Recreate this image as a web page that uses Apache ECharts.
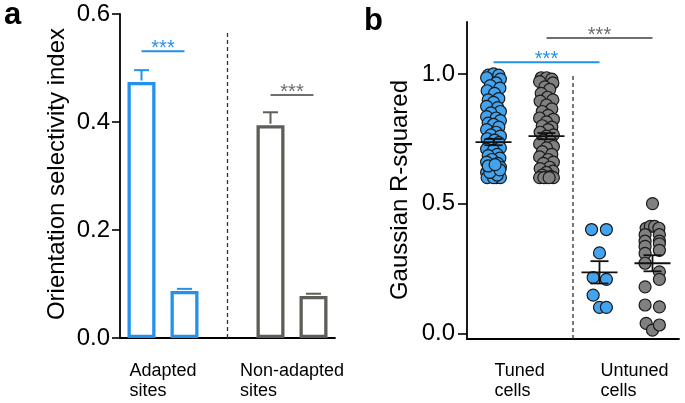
<!DOCTYPE html>
<html><head><meta charset="utf-8">
<script src="https://cdn.jsdelivr.net/npm/echarts@6/dist/echarts.min.js"></script>
<style>html,body{margin:0;padding:0;background:#fff}#c{width:685px;height:403px}</style>
</head><body><div id="c"></div>
<script>
const FONT = '"Liberation Sans", Arial, Helvetica, sans-serif';
const COLORS = { blue: '#2391ee', gray: '#5e5e59', dotBlue: '#42a3ef', dotGray: '#808080', sigGray: '#6e6e6e' };

// ---------- Panel a data ----------
const catsA = ['Adapted 1', 'Adapted 2', 'gap', 'Non-adapted 1', 'Non-adapted 2'];
const osiMeans = [0.474, 0.087, null, 0.394, 0.078];
const osiErrors = [0.022, 0.004, null, 0.024, 0.004];
const barGroupsA = ['blue', 'blue', null, 'gray', 'gray'];
const groupLabelsA = [{ text: 'Adapted\nsites', from: 0, to: 1 }, { text: 'Non-adapted\nsites', from: 3, to: 4 }];
const sigA = [{ from: 0, to: 1, y: 0.531, color: 'blue' }, { from: 3, to: 4, y: 0.45, color: 'gray' }];
const dividerA = { x: 2, y0: 0, y1: 0.567 };

// ---------- Panel b data ----------
const catsB = ['Tuned adapted', 'Tuned non-adapted', 'Untuned adapted', 'Untuned non-adapted'];
// [jitter offset (category units), R-squared]
const tunedAdapted = [
  [-0.1,0.995],[0,1.0],[0.1,0.995],[-0.13,0.985],[0.13,0.98],
  [0.05,0.965],[-0.06,0.955],[0.12,0.945],[-0.12,0.935],[0.02,0.925],
  [0.1,0.905],[-0.1,0.9],[0,0.89],[-0.13,0.875],[0.08,0.87],
  [0.13,0.855],[-0.05,0.85],[-0.13,0.835],[0.05,0.83],[0.13,0.82],
  [-0.1,0.81],[0,0.805],[0.1,0.795],[-0.13,0.785],[0.05,0.775],
  [-0.05,0.765],[0.13,0.76],[-0.12,0.75],[0.02,0.745],[0.1,0.735],
  [-0.08,0.73],[0.13,0.715],[-0.13,0.71],[0,0.705],[0.07,0.69],
  [-0.1,0.685],[0.12,0.675],[-0.03,0.67],[-0.13,0.66],[0.08,0.655],
  [0.13,0.64],[-0.08,0.64],[0,0.63],[-0.13,0.62],[0.1,0.615],
  [-0.05,0.605],[0.05,0.6],[-0.12,0.6],[0.13,0.6],[0,0.6],
  [0.07,0.61],[-0.07,0.62],[0.12,0.63],[-0.1,0.645],[0.03,0.65]
];
const tunedNonAdapted = [
  [-0.1,0.985],[0,0.985],[0.1,0.98],[-0.13,0.97],[0.12,0.965],
  [-0.03,0.95],[0.06,0.94],[-0.1,0.925],[0.02,0.91],[0.12,0.9],
  [-0.12,0.895],[0,0.88],[0.1,0.865],[-0.08,0.855],[0.03,0.84],
  [-0.13,0.83],[0.13,0.825],[0,0.815],[-0.08,0.8],[0.1,0.795],
  [0.03,0.785],[-0.12,0.775],[0.13,0.765],[0,0.76],[-0.06,0.745],
  [0.08,0.74],[-0.13,0.73],[0.13,0.72],[0,0.715],[-0.08,0.7],
  [0.1,0.69],[-0.13,0.68],[0.03,0.67],[0.13,0.66],[-0.06,0.655],
  [0.06,0.64],[-0.12,0.635],[0.12,0.625],[0,0.62],[-0.08,0.61],
  [0.08,0.605],[-0.13,0.6],[0.13,0.6],[0,0.6],[-0.05,0.6],[0.05,0.6]
];
const untunedAdapted = [
  [-0.15,0.40],[0.13,0.40],[0,0.31],[-0.12,0.215],[0.13,0.208],[-0.12,0.147],[0,0.10],[0.13,0.10]
];
const untunedNonAdapted = [
  [0,0.50],[-0.12,0.405],[-0.04,0.412],[0.04,0.412],[0.12,0.405],
  [-0.14,0.38],[0.13,0.38],[-0.14,0.355],[0.13,0.355],[-0.14,0.335],
  [0.13,0.345],[-0.14,0.308],[0.13,0.32],[-0.14,0.27],[0.13,0.237],
  [0.13,0.208],[-0.14,0.179],[-0.14,0.109],[0.13,0.102],[-0.12,0.038],
  [0,0.012],[0.13,0.032]
];
const groupsB = [tunedAdapted, tunedNonAdapted, untunedAdapted, untunedNonAdapted];
const groupColorsB = ['dotBlue', 'dotGray', 'dotBlue', 'dotGray'];
const rsqMeans = [0.737, 0.76, 0.235, 0.27];
const rsqSEM = [0.012, 0.012, 0.043, 0.031];
const groupLabelsB = [{ text: 'Tuned\ncells', from: 0, to: 1 }, { text: 'Untuned\ncells', from: 2, to: 3 }];
const sigB = [{ from: 0, to: 2, y: 1.045, color: 'blue' }, { from: 1, to: 3, y: 1.138, color: 'gray' }];
const dividerB = { x: 1.5, y0: -0.022, y1: 1.0 };
const yTicksB = [0, 0.5, 1.0];

// ---------- helpers ----------
const measureCtx = document.createElement('canvas').getContext('2d');
function blockWidth(text, font) {
  measureCtx.font = font;
  return Math.max(...text.split('\n').map(t => measureCtx.measureText(t).width));
}
const sigColor = c => c === 'blue' ? COLORS.blue : COLORS.sigGray;

function sigSeries(list, xi, yi) {
  return {
    type: 'custom', xAxisIndex: xi, yAxisIndex: yi, z: 5,
    data: list.map(d => [d.from, d.y]),
    renderItem: (params, api) => {
      const d = list[params.dataIndex];
      const p0 = api.coord([d.from, d.y]), p1 = api.coord([d.to, d.y]);
      const col = sigColor(d.color);
      return { type: 'group', children: [
        { type: 'line', shape: { x1: p0[0], y1: p0[1], x2: p1[0], y2: p1[1] }, style: { stroke: col, lineWidth: 2 } },
        { type: 'text', style: { text: '***', x: (p0[0] + p1[0]) / 2, y: p0[1] - 3, fill: col, font: '20px ' + FONT, align: 'center', verticalAlign: 'middle' } }
      ] };
    }
  };
}
function dividerSeries(d, xi, yi) {
  return {
    type: 'custom', xAxisIndex: xi, yAxisIndex: yi, z: 1,
    data: [[d.x, d.y1]],
    renderItem: (params, api) => {
      const a = api.coord([d.x, d.y0]), b = api.coord([d.x, d.y1]);
      return { type: 'line', shape: { x1: a[0], y1: a[1], x2: b[0], y2: b[1] }, style: { stroke: '#333', lineWidth: 1.3, lineDash: [4, 3] } };
    }
  };
}
// mode 'center': block centred under the pair; mode 'start': block starts at the first tick
function labelSeries(list, xi, yi, yVal, mode) {
  const font = '18px ' + FONT;
  return {
    type: 'custom', xAxisIndex: xi, yAxisIndex: yi, z: 5,
    data: list.map(d => [(d.from + d.to) / 2, yVal]),
    renderItem: (params, api) => {
      const d = list[params.dataIndex];
      let x;
      if (mode === 'start') {
        x = api.coord([d.from, yVal])[0] + 1;
      } else {
        x = api.coord([(d.from + d.to) / 2, yVal])[0] - blockWidth(d.text, font) / 2;
      }
      return { type: 'text', style: { text: d.text, x: x, y: 361, fill: '#000', font: font, align: 'left', verticalAlign: 'top', lineHeight: 20 } };
    }
  };
}

const axisLineStyle = { color: '#000', width: 1.8 };
const option = {
  animation: false,
  backgroundColor: '#fff',
  textStyle: { fontFamily: FONT },
  grid: [
    { left: 120, top: 14, width: 215, height: 324, containLabel: false },
    { left: 467, top: 22, width: 212, height: 317, containLabel: false }
  ],
  xAxis: [
    { type: 'category', gridIndex: 0, data: catsA, boundaryGap: true,
      axisLine: { onZero: false, lineStyle: axisLineStyle },
      axisTick: { alignWithLabel: true, length: 9, lineStyle: { color: '#000', width: 1.6 } },
      axisLabel: { show: false }, splitLine: { show: false } },
    { type: 'value', gridIndex: 0, min: -0.5, max: 4.5, show: false },
    { type: 'category', gridIndex: 1, data: catsB, boundaryGap: true,
      axisLine: { onZero: false, lineStyle: axisLineStyle },
      axisTick: { alignWithLabel: true, length: 9, lineStyle: { color: '#000', width: 1.6 } },
      axisLabel: { show: false }, splitLine: { show: false } },
    { type: 'value', gridIndex: 1, min: -0.5, max: 3.5, show: false }
  ],
  yAxis: [
    { type: 'value', gridIndex: 0, min: 0, max: 0.6, interval: 0.2,
      axisLine: { show: true, onZero: false, lineStyle: axisLineStyle },
      axisTick: { show: true, length: 8, lineStyle: { color: '#000', width: 1.6 } },
      axisLabel: { formatter: v => v.toFixed(1), fontSize: 24, color: '#000', margin: 10, fontFamily: FONT },
      splitLine: { show: false } },
    { type: 'value', gridIndex: 1, min: -0.022, max: 1.2,
      axisLine: { show: true, onZero: false, lineStyle: axisLineStyle },
      axisTick: { show: true, length: 9, customValues: yTicksB, lineStyle: { color: '#000', width: 1.6 } },
      axisLabel: { customValues: yTicksB, formatter: v => v.toFixed(1), fontSize: 24, color: '#000', margin: 12, fontFamily: FONT },
      splitLine: { show: false } }
  ],
  series: [
    { type: 'bar', xAxisIndex: 0, yAxisIndex: 0, barWidth: 28, z: 3,
      data: osiMeans.map((v, i) => v == null ? '-' : { value: v, itemStyle: { color: '#fff', borderColor: COLORS[barGroupsA[i]], borderWidth: 3.3 } }) },
    { type: 'custom', xAxisIndex: 0, yAxisIndex: 0, z: 4,
      data: osiMeans.map((v, i) => [i, v == null ? 0 : v]).filter((d, i) => osiMeans[i] != null),
      renderItem: (params, api) => {
        const i = api.value(0);
        const m = osiMeans[i], e = osiErrors[i];
        const p0 = api.coord([i, m]), p1 = api.coord([i, m + e]);
        const col = COLORS[barGroupsA[i]];
        return { type: 'group', children: [
          { type: 'line', shape: { x1: p0[0], y1: p0[1] - 1.5, x2: p1[0], y2: p1[1] }, style: { stroke: col, lineWidth: 2 } },
          { type: 'line', shape: { x1: p1[0] - 7.5, y1: p1[1], x2: p1[0] + 7.5, y2: p1[1] }, style: { stroke: col, lineWidth: 2 } }
        ] };
      } },
    dividerSeries(dividerA, 1, 0),
    sigSeries(sigA, 0, 0),
    labelSeries(groupLabelsA, 1, 0, 0, 'center'),
    ...groupsB.map((g, gi) => ({
      type: 'scatter', xAxisIndex: 3, yAxisIndex: 1, z: 3,
      symbol: 'circle', symbolSize: 12,
      itemStyle: { color: COLORS[groupColorsB[gi]], borderColor: '#1a1a1a', borderWidth: 1.2, opacity: 1 },
      data: g.map(d => [gi + d[0], d[1]])
    })),
    { type: 'custom', xAxisIndex: 3, yAxisIndex: 1, z: 6,
      data: rsqMeans.map((m, i) => [i, m]),
      renderItem: (params, api) => {
        const i = params.dataIndex;
        const m = rsqMeans[i], s = rsqSEM[i];
        const a = api.coord([i - 0.34, m]), b = api.coord([i + 0.34, m]);
        const t = api.coord([i, m + s]), u = api.coord([i, m - s]);
        const cw = api.size([0.17, 0])[0];
        const st = { stroke: '#111', lineWidth: 1.8 };
        return { type: 'group', children: [
          { type: 'line', shape: { x1: a[0], y1: a[1], x2: b[0], y2: b[1] }, style: st },
          { type: 'line', shape: { x1: t[0], y1: t[1], x2: u[0], y2: u[1] }, style: st },
          { type: 'line', shape: { x1: t[0] - cw, y1: t[1], x2: t[0] + cw, y2: t[1] }, style: st },
          { type: 'line', shape: { x1: u[0] - cw, y1: u[1], x2: u[0] + cw, y2: u[1] }, style: st }
        ] };
      } },
    dividerSeries(dividerB, 3, 1),
    sigSeries(sigB, 3, 1),
    labelSeries(groupLabelsB, 3, 1, 0, 'start')
  ],
  graphic: [
    { type: 'text', left: 4, top: 0, style: { text: 'a', font: 'bold 31px ' + FONT, fill: '#000' } },
    { type: 'text', left: 364, top: 6, style: { text: 'b', font: 'bold 31px ' + FONT, fill: '#000' } },
    { type: 'text', x: 57, y: 174, rotation: Math.PI / 2, style: { text: 'Orientation selectivity index', font: '24px ' + FONT, fill: '#000', align: 'center', verticalAlign: 'middle' } },
    { type: 'text', x: 400, y: 190, rotation: Math.PI / 2, style: { text: 'Gaussian R-squared', font: '24px ' + FONT, fill: '#000', align: 'center', verticalAlign: 'middle' } }
  ]
};
const chart = echarts.init(document.getElementById('c'), null, { renderer: 'canvas' });
chart.setOption(option);
</script>
</body></html>
